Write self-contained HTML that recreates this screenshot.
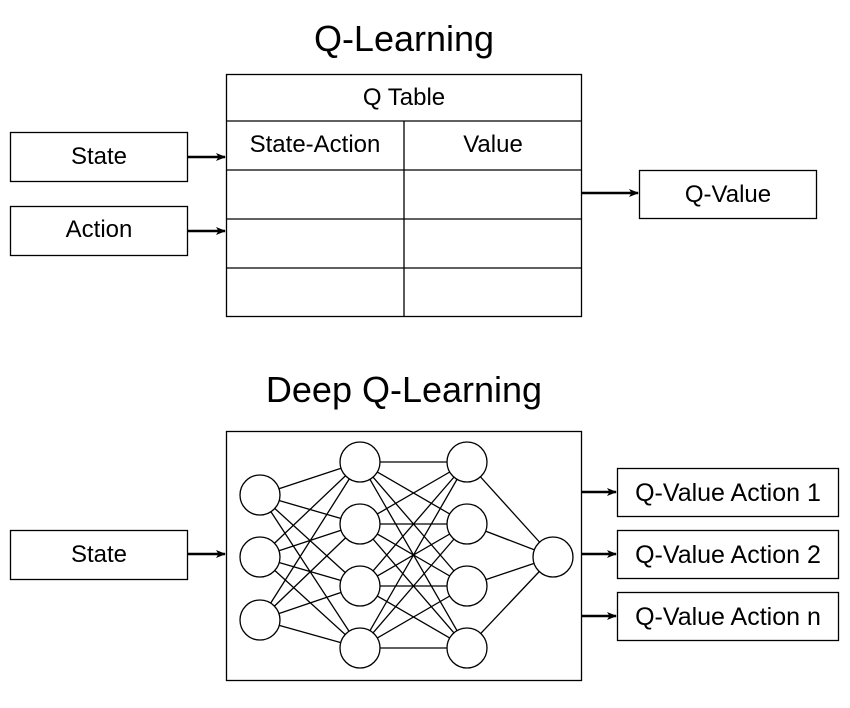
<!DOCTYPE html>
<html><head><meta charset="utf-8"><style>
html,body{margin:0;padding:0;background:#fff;}
svg{display:block;}
text{font-family:"Liberation Sans",Arial,sans-serif;fill:#000;}
</style></head><body>
<svg width="850" height="708" viewBox="0 0 850 708" xmlns="http://www.w3.org/2000/svg">
<defs><marker id="b" markerWidth="10" markerHeight="10" refX="9" refY="5" orient="auto" markerUnits="userSpaceOnUse"><path d="M0,1 L10,5 L0,9 L2.5,5 Z" fill="#000"/></marker></defs>
<g stroke="#000" fill="none" stroke-width="1.3">
<text x="404" y="51" font-size="36" text-anchor="middle" stroke="none">Q-Learning</text>
<rect x="226.5" y="74.5" width="355" height="242"/>
<line x1="226" y1="121" x2="582" y2="121"/><line x1="226" y1="170" x2="582" y2="170"/>
<line x1="226" y1="219" x2="582" y2="219"/><line x1="226" y1="268" x2="582" y2="268"/>
<line x1="404" y1="121" x2="404" y2="317"/>
<text x="404" y="105" font-size="24" text-anchor="middle" stroke="none">Q Table</text>
<text x="315" y="152" font-size="24" text-anchor="middle" stroke="none">State-Action</text>
<text x="493" y="152" font-size="24" text-anchor="middle" stroke="none">Value</text>
<rect x="10.5" y="132.5" width="177" height="49"/>
<text x="99" y="164" font-size="24" text-anchor="middle" stroke="none">State</text>
<rect x="10.5" y="206.5" width="177" height="49"/>
<text x="99" y="237" font-size="24" text-anchor="middle" stroke="none">Action</text>
<line x1="188" y1="157" x2="225" y2="157" stroke-width="2.5" marker-end="url(#b)"/>
<line x1="188" y1="231" x2="225" y2="231" stroke-width="2.5" marker-end="url(#b)"/>
<line x1="582" y1="193" x2="638" y2="193" stroke-width="2.5" marker-end="url(#b)"/>
<rect x="639.5" y="170.5" width="177" height="48"/>
<text x="728" y="202" font-size="24" text-anchor="middle" stroke="none">Q-Value</text>

<text x="404" y="402" font-size="36" text-anchor="middle" stroke="none">Deep Q-Learning</text>
<rect x="226.5" y="431.5" width="355" height="249"/>
<rect x="10.5" y="530.5" width="177" height="49"/>
<text x="99" y="562" font-size="24" text-anchor="middle" stroke="none">State</text>
<line x1="188" y1="554" x2="225" y2="554" stroke-width="2.5" marker-end="url(#b)"/>
<line x1="582" y1="492" x2="616" y2="492" stroke-width="2.5" marker-end="url(#b)"/>
<line x1="582" y1="554" x2="616" y2="554" stroke-width="2.5" marker-end="url(#b)"/>
<line x1="582" y1="616" x2="616" y2="616" stroke-width="2.5" marker-end="url(#b)"/>
<rect x="617.5" y="468.5" width="221" height="48"/>
<text x="728" y="501" font-size="25" text-anchor="middle" stroke="none">Q-Value Action 1</text>
<rect x="617.5" y="530.5" width="221" height="48"/>
<text x="728" y="563" font-size="25" text-anchor="middle" stroke="none">Q-Value Action 2</text>
<rect x="617.5" y="592.5" width="221" height="48"/>
<text x="728" y="625" font-size="25" text-anchor="middle" stroke="none">Q-Value Action n</text>

<g stroke-width="1.3">
<path d="M260 495L360 462M260 495L360 524M260 495L360 586M260 495L360 648
M260 557L360 462M260 557L360 524M260 557L360 586M260 557L360 648
M260 620L360 462M260 620L360 524M260 620L360 586M260 620L360 648
M360 462L467 462M360 462L467 524M360 462L467 586M360 462L467 648
M360 524L467 462M360 524L467 524M360 524L467 586M360 524L467 648
M360 586L467 462M360 586L467 524M360 586L467 586M360 586L467 648
M360 648L467 462M360 648L467 524M360 648L467 586M360 648L467 648
M467 462L553 557M467 524L553 557M467 586L553 557M467 648L553 557"/>
</g>
<g fill="#fff">
<circle cx="260" cy="495" r="20"/><circle cx="260" cy="557" r="20"/><circle cx="260" cy="620" r="20"/>
<circle cx="360" cy="462" r="20"/><circle cx="360" cy="524" r="20"/><circle cx="360" cy="586" r="20"/><circle cx="360" cy="648" r="20"/>
<circle cx="467" cy="462" r="20"/><circle cx="467" cy="524" r="20"/><circle cx="467" cy="586" r="20"/><circle cx="467" cy="648" r="20"/>
<circle cx="553" cy="557" r="20"/>
</g>
</g>
</svg>
</body></html>
